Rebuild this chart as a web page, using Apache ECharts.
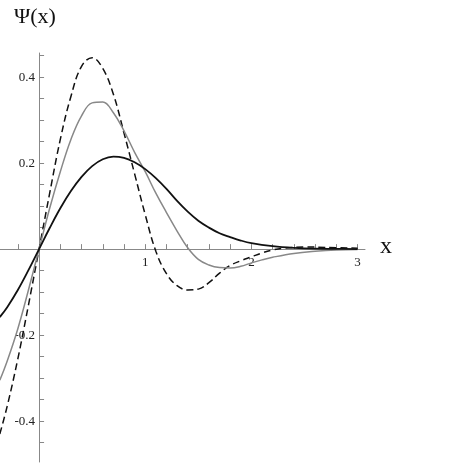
<!DOCTYPE html>
<html><head><meta charset="utf-8">
<script src="https://cdn.jsdelivr.net/npm/echarts@6/dist/echarts.min.js"></script>
<style>html,body{margin:0;padding:0;background:#fff}#c{width:474px;height:474px}</style>
</head><body><div id="c"></div>
<script>
const blackX = [-0.37,-0.3,-0.2,-0.1,0,0.1,0.2,0.3,0.4,0.5,0.6,0.7,0.8,0.9,1.0,1.1,1.2,1.3,1.4,1.5,1.6,1.7,1.8,1.9,2.0,2.2,2.4,2.6,2.8,3.0];
const blackY = [-0.158,-0.135,-0.095,-0.049,0,0.049,0.095,0.135,0.168,0.193,0.209,0.215,0.212,0.202,0.186,0.165,0.14,0.112,0.087,0.066,0.05,0.037,0.028,0.02,0.014,0.007,0.003,0.001,0.0005,0];
const grayX = [-0.37,-0.3,-0.2,-0.1,0,0.1,0.2,0.3,0.4,0.5,0.6,0.7,0.8,0.9,1.0,1.1,1.2,1.3,1.4,1.5,1.6,1.7,1.8,1.9,2.0,2.1,2.2,2.4,2.6,2.8,3.0];
const grayY = [-0.305,-0.26,-0.185,-0.095,0,0.095,0.18,0.255,0.31,0.34,0.342,0.317,0.275,0.225,0.18,0.13,0.085,0.042,0.003,-0.024,-0.037,-0.043,-0.044,-0.04,-0.032,-0.025,-0.019,-0.01,-0.005,-0.002,-0.001];
const dashX = [-0.37,-0.3,-0.2,-0.1,0,0.1,0.2,0.3,0.4,0.5,0.6,0.7,0.8,0.9,1.0,1.1,1.2,1.3,1.4,1.5,1.6,1.7,1.8,1.9,2.0,2.1,2.2,2.3,2.5,2.7,3.0];
const dashY = [-0.43,-0.365,-0.255,-0.13,0,0.13,0.255,0.355,0.425,0.445,0.42,0.36,0.27,0.175,0.08,-0.005,-0.057,-0.085,-0.095,-0.093,-0.078,-0.056,-0.038,-0.027,-0.018,-0.009,-0.002,0.002,0.005,0.004,0.002];
const xLabels = [1,2,3];
const yLabels = [-0.4,-0.2,0.2,0.4];
const xTicks = [-0.2,0.2,0.4,0.6,0.8,1,1.2,1.4,1.6,1.8,2,2.2,2.4,2.6,2.8,3];
const yTicks = [-0.45,-0.4,-0.35,-0.3,-0.25,-0.2,-0.15,-0.1,-0.05,0.05,0.1,0.15,0.2,0.25,0.3,0.35,0.4,0.45];
const pairs = (xs, ys) => xs.map((x, i) => [x, ys[i]]);
const font = '13px "Liberation Serif"';
const chart = echarts.init(document.getElementById('c'));
const option = {
  animation:false,
  grid:{left:0,top:53,width:365,height:409,containLabel:false,outerBoundsMode:'none'},
  xAxis:{type:'value',min:-0.368,max:3.07,splitLine:{show:false},
    axisLine:{onZero:true,lineStyle:{color:'#888',width:1}},
    axisTick:{show:true,inside:true,length:5,customValues:xTicks,lineStyle:{color:'#888'}},
    axisLabel:{show:false}},
  yAxis:{type:'value',min:-0.495,max:0.456,splitLine:{show:false},
    axisLine:{onZero:true,lineStyle:{color:'#888',width:1}},
    axisTick:{show:true,inside:true,length:5,customValues:yTicks,lineStyle:{color:'#888'}},
    axisLabel:{show:false}},
  series:[
    {type:'line',data:pairs(dashX,dashY),smooth:0.4,symbol:'none',lineStyle:{color:'#111',width:1.5,type:[7,4]}},
    {type:'line',data:pairs(grayX,grayY),smooth:0.4,symbol:'none',lineStyle:{color:'#888',width:1.5}},
    {type:'line',data:pairs(blackX,blackY),smooth:0.4,symbol:'none',lineStyle:{color:'#111',width:1.8}}
  ]
};
chart.setOption(option);
const g = [
  {type:'text',left:14,top:6,style:{text:'Ψ(x)',font:'22px "Liberation Serif"',fill:'#111'}},
  {type:'text',left:380,top:235,style:{text:'x',font:'24px "Liberation Serif"',fill:'#111'}}
];
xLabels.forEach(v => {
  const p = chart.convertToPixel({gridIndex:0},[v,0]);
  g.push({type:'text',x:p[0],y:p[1]+7,style:{text:String(v),font:font,fill:'#222',align:'center',verticalAlign:'top'}});
});
yLabels.forEach(v => {
  const p = chart.convertToPixel({gridIndex:0},[0,v]);
  g.push({type:'text',x:p[0]-4,y:p[1],style:{text:String(v),font:font,fill:'#222',align:'right',verticalAlign:'middle'}});
});
chart.setOption({graphic:g});
</script></body></html>
